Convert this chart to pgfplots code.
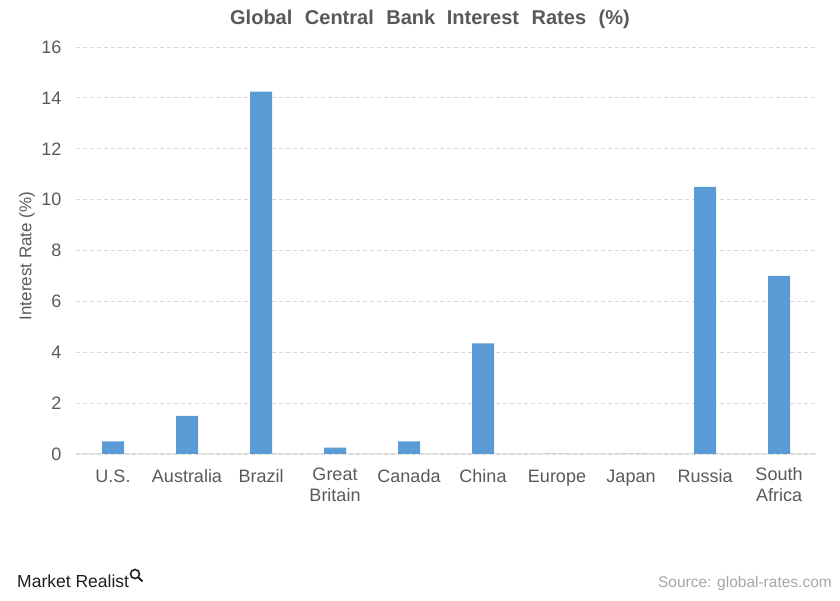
\documentclass[border=0pt]{standalone}
\usepackage{pgfplots}
\pgfplotsset{compat=1.18}
\usepackage{fontspec}
\setmainfont{Liberation Sans}

\definecolor{barblue}{HTML}{5B9BD5}
\definecolor{txtgray}{HTML}{595959}
\definecolor{gridgray}{HTML}{D9D9D9}
\definecolor{srcgray}{HTML}{A6A6A6}
\definecolor{logo}{HTML}{1F1F1F}

\begin{document}
\begin{tikzpicture}
\path[use as bounding box] (0pt,0pt) rectangle (840pt,601pt);

\begin{axis}[
    at={(76pt,147pt)}, anchor=south west,
    scale only axis, width=740pt, height=407pt,
    ybar, bar width=22pt, bar shift=0pt,
    xmin=-0.5, xmax=9.5, ymin=0, ymax=16,
    xtick=data,
    xticklabels={U.S., Australia, Brazil, Great\\Britain, Canada, China, Europe, Japan, Russia, South\\Africa},
    ytick={0,2,...,16},
    axis x line*=bottom, axis y line*=left,
    x axis line style={draw=gridgray, line width=1pt, -},
    y axis line style={draw=none},
    major tick length=0pt,
    tick style={draw=none},
    ymajorgrids,
    grid style={draw=gridgray, dash pattern=on 4pt off 3pt, line width=0.8pt},
    /pgf/number format/assume math mode=true,
    x tick label style={font=\fontsize{18}{21}\selectfont, text=txtgray, align=center,
        execute at begin node=\strut, yshift=-10pt},
    y tick label style={font=\fontsize{18}{22}\selectfont, text=txtgray, xshift=-11pt},
]
\addplot[draw=none, fill=barblue] coordinates {
    (0,0.5) (1,1.5) (2,14.25) (3,0.25) (4,0.5)
    (5,4.35) (6,0) (7,0) (8,10.5) (9,7.0)
};
\end{axis}

% title and axis label
\node[text=txtgray, font=\fontsize{20}{24}\selectfont\bfseries] at (430pt,582pt)
    {Global\hspace{7pt} Central\hspace{7pt} Bank\hspace{6pt} Interest\hspace{7pt} Rates\hspace{7pt} (\%)};
\node[rotate=90, text=txtgray, font=\fontsize{17}{20}\selectfont] at (27pt,345pt) {Interest Rate (\%)};

% footer
\node[anchor=base west, text=logo, font=\fontsize{17.5}{20}\selectfont, inner sep=0pt] at (17pt,13pt) {Market Realist};
\draw[logo, line width=1.6pt] (135pt,27pt) circle (4.5pt);
\draw[logo, line width=2pt] (138.5pt,23.5pt) -- (142.5pt,19.5pt);
\node[anchor=base east, text=srcgray, font=\fontsize{15.5}{18}\selectfont, inner sep=0pt] at (832pt,13pt) {Source: global-rates.com};
\end{tikzpicture}
\end{document}
